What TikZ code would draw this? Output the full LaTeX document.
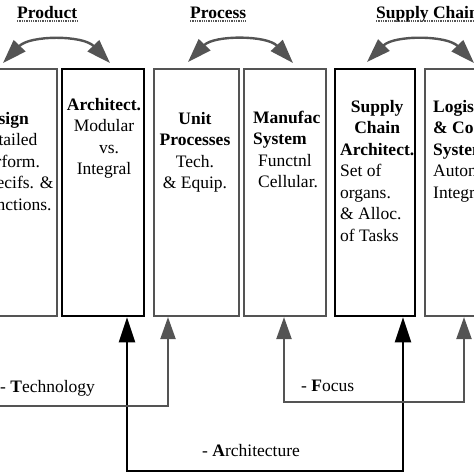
\documentclass[tikz,border=0pt]{standalone}
\usepackage{fontspec}
\setmainfont{Liberation Serif}
\usetikzlibrary{arrows.meta}
\definecolor{gry}{gray}{0.33}
\begin{document}
\begin{tikzpicture}[x=1pt,y=-1pt,
  blackbox/.style={draw=black,line width=2.6pt,minimum height=247pt,inner sep=0pt},
  graybox/.style={draw=gry,line width=2.2pt,minimum height=247pt,inner sep=0pt},
  txt/.style={inner sep=0pt,anchor=base west,font=\fontsize{17.5}{21.5}\selectfont},
  headtxt/.style={inner sep=0pt,anchor=base west,font=\bfseries\fontsize{17.5}{21.5}\selectfont},
  headline/.style={draw=gry,line width=1.3pt,densely dotted},
  curvearrow/.style={draw=gry,line width=2.4pt,{Triangle[length=24pt,width=16pt,fill=gry]}-{Triangle[length=24pt,width=16pt,fill=gry]}},
  blackarrow/.style={draw=black,line width=2pt,-{Triangle[length=25pt,width=16pt]}},
  grayarrow/.style={draw=gry,line width=2.2pt,-{Triangle[length=22pt,width=15pt,fill=gry]}}]
\useasboundingbox (0,0) rectangle (474,474);

% headings
\node[headtxt] (hprod) at (17,18) {Product};
\node[headtxt] (hproc) at (190,18) {Process};
\node[headtxt] (hsupp) at (376,18) {Supply Chain};
\draw[headline] ([yshift=-3pt]hprod.base west) -- ([yshift=-3pt]hprod.base east);
\draw[headline] ([yshift=-3pt]hproc.base west) -- ([yshift=-3pt]hproc.base east);
\draw[headline] ([yshift=-3pt]hsupp.base west) -- ([yshift=-3pt]hsupp.base east);

% boxes
\node[graybox,minimum width=87pt] (design) at (13.5,192.5) {};
\node[blackbox,minimum width=82pt] (arch) at (103,192.5) {};
\node[graybox,minimum width=85pt] (unit) at (196.5,192.5) {};
\node[graybox,minimum width=82pt] (manuf) at (285,192.5) {};
\node[blackbox,minimum width=80pt] (sca) at (375,192.5) {};
\node[graybox,minimum width=95pt] (logis) at (472.5,192.5) {};

% box texts
\node[txt] (designtxt) at (-22,124) {\begin{tabular}[t]{@{}l@{}}\textbf{Design}\\Detailed\\Perform.\\Specifs. \&\\Functions.\end{tabular}};
\node[txt,anchor=base] (archtxt) at (104,110) {\begin{tabular}[t]{@{}c@{}}\textbf{Architect.}\\Modular\\\hspace{10pt}vs.\\Integral\end{tabular}};
\node[txt,anchor=base] (unittxt) at (195,124) {\begin{tabular}[t]{@{}c@{}}\textbf{Unit}\\\textbf{Processes}\\Tech.\\\& Equip.\end{tabular}};
\node[txt] (manuftxt) at (253,123) {\begin{tabular}[t]{@{}l@{}}\textbf{Manufac}\\\textbf{System}\\\hspace{5pt}Functnl\\\hspace{5pt}Cellular.\end{tabular}};
\node[txt] (scatxt) at (340,112) {\begin{tabular}[t]{@{}l@{}}\multicolumn{1}{@{}c@{}}{\textbf{Supply}}\\\multicolumn{1}{@{}c@{}}{\textbf{Chain}}\\\textbf{Architect.}\\Set of\\organs.\\\& Alloc.\\of Tasks\end{tabular}};
\node[txt] (logistxt) at (433,112) {\begin{tabular}[t]{@{}l@{}}\textbf{Logistics}\\\textbf{\& Coord.}\\\textbf{System}\\Autonom.\\Integrated\end{tabular}};

% curved arrows
\coordinate (pa) at (3,63);
\coordinate (pb) at (110,63);
\coordinate (qa) at (188,62);
\coordinate (qb) at (293,63);
\coordinate (sa) at (367,62);
\coordinate (sb) at (474,63);
\draw[curvearrow] (pa) .. controls (30,35) and (83,35) .. (pb);
\draw[curvearrow] (qa) .. controls (214,35) and (267,35) .. (qb);
\draw[curvearrow] (sa) .. controls (394,35) and (447,35) .. (sb);

% bottom connectors
\coordinate (archL) at (127,471);
\coordinate (archR) at (403,471);
\draw[blackarrow] (archR) -- (archL) -- (archL |- arch.south);
\draw[blackarrow] (archL) -- (archR) -- (archR |- sca.south);

\coordinate (techL) at (-30,406);
\coordinate (techR) at (168,406);
\draw[grayarrow] (techL) -- (techR) -- (techR |- unit.south);

\coordinate (focL) at (284,402);
\coordinate (focR) at (464,402);
\draw[grayarrow] (focR) -- (focL) -- (focL |- manuf.south);
\draw[grayarrow] (focL) -- (focR) -- (focR |- logis.south);

% labels
\node[txt] (ltech) at (0,392) {- \textbf{T}echnology};
\node[txt] (lfoc) at (301,391) {- \textbf{F}ocus};
\node[txt] (larch) at (202,456) {- \textbf{A}rchitecture};
\end{tikzpicture}
\end{document}
